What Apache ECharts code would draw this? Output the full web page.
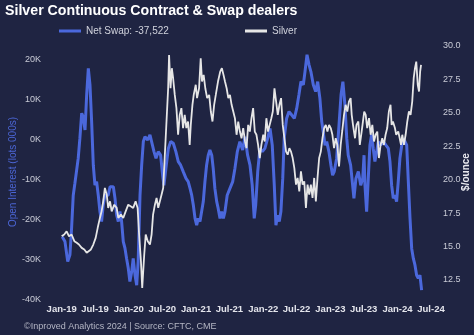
<!DOCTYPE html>
<html>
<head>
<meta charset="utf-8">
<script src="https://cdn.jsdelivr.net/npm/echarts@6/dist/echarts.min.js"></script>
<style>
html,body{margin:0;padding:0;background:#1f2442;}
#chart{width:474px;height:335px;}
</style>
</head>
<body>
<div id="chart"></div>
<script>
// ---- Data ----
const swapDates = [
'2019-01-04','2019-01-19','2019-02-03','2019-02-15','2019-02-24','2019-03-05','2019-03-14','2019-03-24','2019-04-01','2019-04-10',
'2019-04-20','2019-04-28','2019-05-08','2019-05-17','2019-05-26','2019-06-04','2019-06-13','2019-06-22','2019-07-01','2019-07-10',
'2019-07-19','2019-07-28','2019-08-06','2019-08-15','2019-08-24','2019-09-11','2019-09-21','2019-10-09','2019-10-18','2019-10-27',
'2019-11-05','2019-11-14','2019-11-23','2019-12-02','2019-12-11','2019-12-20','2019-12-29','2020-01-07','2020-01-17','2020-01-25',
'2020-02-04','2020-02-13','2020-02-21','2020-03-02','2020-03-11','2020-03-20','2020-03-29','2020-04-13','2020-04-25','2020-05-04',
'2020-05-17','2020-05-28','2020-06-09','2020-06-22','2020-07-03','2020-07-10','2020-07-21','2020-08-03','2020-08-16','2020-08-30',
'2020-09-13','2020-09-26','2020-10-09','2020-10-23','2020-11-07','2020-11-19','2020-11-29','2020-12-08','2020-12-17','2020-12-26',
'2021-01-04','2021-01-13','2021-01-22','2021-01-31','2021-02-09','2021-02-18','2021-02-27','2021-03-08','2021-03-17','2021-03-27',
'2021-04-04','2021-04-13','2021-04-23','2021-05-01','2021-05-11','2021-05-20','2021-05-29','2021-06-07','2021-06-19','2021-07-04',
'2021-07-19','2021-07-31','2021-08-13','2021-08-27','2021-09-11','2021-09-24','2021-09-30','2021-10-08','2021-10-21','2021-11-02',
'2021-11-13','2021-11-21','2021-12-02','2021-12-14','2021-12-27','2022-01-10','2022-01-25','2022-02-07','2022-02-19','2022-03-02',
'2022-03-11','2022-03-20','2022-03-29','2022-04-07','2022-04-17','2022-04-25','2022-05-08','2022-05-21','2022-06-04','2022-06-19',
'2022-07-02','2022-07-14','2022-07-25','2022-08-07','2022-08-16','2022-08-27','2022-09-07','2022-09-17','2022-09-30','2022-10-13',
'2022-10-24','2022-11-05','2022-11-15','2022-11-23','2022-12-03','2022-12-12','2022-12-24','2023-01-04','2023-01-13','2023-01-22',
'2023-02-04','2023-02-17','2023-02-28','2023-03-10','2023-03-21','2023-03-31','2023-04-08','2023-04-21','2023-05-02','2023-05-09',
'2023-05-20','2023-06-02','2023-06-15','2023-06-26','2023-07-03','2023-07-08','2023-07-17','2023-07-26','2023-08-04','2023-08-13',
'2023-08-22','2023-08-31','2023-09-10','2023-09-18','2023-10-01','2023-10-16','2023-10-30','2023-11-12','2023-11-21','2023-11-30',
'2023-12-09','2023-12-18','2023-12-27','2024-01-05','2024-01-14','2024-01-24','2024-02-01','2024-02-11','2024-02-20','2024-02-28',
'2024-03-09','2024-03-18','2024-03-27','2024-04-05','2024-04-14','2024-04-23','2024-05-02','2024-05-11'
];
// Net swap dealer position, thousands of lots
const swapValues = [
-24.2,-25.4,-30.4,-28.7,-22.0,-13.8,-10.8,-10.4,-4.6,0.4,
6.7,5.8,2.5,11.3,17.9,13.8,4.6,-6.3,-11.3,-10.4,
-13.8,-17.9,-20.4,-16.3,-13.8,-13.8,-11.7,-11.7,-14.6,-18.8,
-20.4,-17.9,-20.4,-25.4,-27.0,-29.6,-32.0,-35.4,-32.9,-29.6,
-33.8,-36.3,-30.4,-13.8,-6.3,-0.4,0.8,0.0,1.3,-0.4,
-2.9,-4.6,-2.9,-3.8,-8.8,-11.3,-7.0,-2.1,-0.4,-0.8,
-2.9,-5.4,-6.3,-7.9,-9.6,-10.4,-12.1,-13.8,-16.3,-19.6,
-21.3,-19.6,-20.4,-17.9,-15.4,-10.4,-6.3,-3.8,-2.5,-3.8,
-7.1,-12.1,-15.4,-17.1,-19.6,-17.9,-19.6,-17.9,-13.8,-12.1,
-10.4,-7.1,-2.9,-0.4,-2.5,0.8,1.2,-3.8,-6.3,-11.3,
-19.6,-16.3,-7.9,-2.1,-2.9,-2.1,0.4,2.9,-1.3,-11.3,
-21.3,-18.8,-20.4,-17.9,-9.6,0.4,5.4,7.1,6.3,5.4,
7.9,11.3,14.6,13.8,17.1,21.3,18.8,17.1,13.8,12.1,
14.6,10.4,4.6,2.1,-1.3,-0.4,-2.9,-6.3,-8.8,-7.9,
-4.6,3.8,11.3,14.6,8.8,0.4,-3.8,-6.3,-11.3,-14.6,
-9.6,-7.9,-11.3,-9.6,-3.8,-11.3,-17.9,-9.6,-1.3,1.3,
-2.1,-5.4,-2.9,-0.4,-1.3,-0.4,-1.3,-2.1,-5.4,-11.3,
-14.6,-13.8,-15.4,-10.4,-4.6,-1.3,0.4,-0.4,-1.3,-9.6,
-19.6,-27.1,-29.6,-31.3,-33.8,-34.6,-33.8,-37.522
];
const silverDates = [
'2019-01-01','2019-01-15','2019-01-28','2019-02-10','2019-02-24','2019-03-11','2019-03-24','2019-04-05','2019-04-20','2019-05-04',
'2019-05-17','2019-05-26','2019-06-09','2019-06-22','2019-07-05','2019-07-16','2019-07-28','2019-08-06','2019-08-15','2019-08-24',
'2019-09-03','2019-09-11','2019-09-21','2019-09-30','2019-10-14','2019-10-27','2019-11-05','2019-11-19','2019-12-02','2019-12-15',
'2019-12-29','2020-01-13','2020-01-25','2020-02-07','2020-02-18','2020-02-25','2020-03-07','2020-03-14','2020-03-25','2020-04-02',
'2020-04-13','2020-04-25','2020-05-04','2020-05-12','2020-05-22','2020-05-31','2020-06-09','2020-06-18','2020-06-27','2020-07-06',
'2020-07-15','2020-07-24','2020-08-02','2020-08-07','2020-08-15','2020-08-22','2020-08-29','2020-09-07','2020-09-16','2020-09-25',
'2020-10-04','2020-10-13','2020-10-22','2020-10-31','2020-11-09','2020-11-18','2020-11-27','2020-12-03','2020-12-12','2020-12-19',
'2020-12-30','2021-01-06','2021-01-17','2021-01-26','2021-02-02','2021-02-11','2021-02-20','2021-03-02','2021-03-13','2021-03-22',
'2021-03-31','2021-04-09','2021-04-18','2021-04-30','2021-05-12','2021-05-21','2021-05-30','2021-06-07','2021-06-16','2021-06-25',
'2021-07-04','2021-07-13','2021-07-22','2021-07-31','2021-08-09','2021-08-18','2021-08-27','2021-09-05','2021-09-14','2021-09-24',
'2021-10-02','2021-10-11','2021-10-20','2021-10-29','2021-11-07','2021-11-16','2021-11-25','2021-12-04','2021-12-13','2021-12-22',
'2022-01-01','2022-01-09','2022-01-18','2022-01-27','2022-02-05','2022-02-14','2022-02-22','2022-03-03','2022-03-12','2022-03-21',
'2022-03-30','2022-04-08','2022-04-17','2022-04-26','2022-05-05','2022-05-14','2022-05-23','2022-06-01','2022-06-10','2022-06-19',
'2022-06-28','2022-07-07','2022-07-16','2022-07-25','2022-08-03','2022-08-12','2022-08-21','2022-08-30','2022-09-08','2022-09-17',
'2022-09-26','2022-10-05','2022-10-14','2022-10-23','2022-11-01','2022-11-10','2022-11-19','2022-11-28','2022-12-07','2022-12-16',
'2022-12-25','2023-01-03','2023-01-12','2023-01-21','2023-01-30','2023-02-08','2023-02-17','2023-02-26','2023-03-07','2023-03-16',
'2023-03-25','2023-04-03','2023-04-12','2023-04-21','2023-04-27','2023-05-04','2023-05-15','2023-05-23','2023-06-02','2023-06-10',
'2023-06-20','2023-06-27','2023-07-04','2023-07-12','2023-07-20','2023-07-30','2023-08-08','2023-08-17','2023-08-26','2023-09-04',
'2023-09-13','2023-09-22','2023-10-01','2023-10-10','2023-10-19','2023-10-28','2023-11-06','2023-11-15','2023-11-24','2023-11-30',
'2023-12-07','2023-12-18','2023-12-25','2024-01-05','2024-01-13','2024-01-20','2024-01-27','2024-02-05','2024-02-14','2024-02-23',
'2024-03-03','2024-03-12','2024-03-21','2024-03-29','2024-04-05','2024-04-12','2024-04-20','2024-04-27','2024-05-03','2024-05-08'
];
// Silver price, $/ounce
const silverValues = [
15.77,15.9,16.14,15.77,15.9,15.4,15.28,15.15,14.9,14.78,
14.53,14.4,14.78,15.15,15.65,16.4,17.14,17.63,18.38,19.38,
18.88,17.89,18.38,17.63,18.13,17.89,17.14,17.39,17.14,17.63,
18.13,18.0,17.89,18.38,17.89,16.14,13.9,11.9,14.4,15.9,
15.4,15.15,15.9,17.39,18.13,18.63,17.89,18.38,18.88,19.38,
21.87,24.35,26.84,29.33,26.84,28.34,27.59,26.34,25.35,23.36,
24.85,25.35,23.86,24.85,23.86,24.35,22.6,24.1,25.6,26.34,
27.1,26.1,26.84,29.08,27.34,27.84,26.84,26.1,26.34,25.1,
24.35,25.6,26.34,27.34,28.08,28.34,27.84,27.34,26.84,26.1,
26.34,25.6,25.1,24.6,23.36,24.35,23.6,23.1,23.86,22.86,
22.36,24.1,23.6,24.6,25.35,23.6,23.36,22.6,21.62,22.6,
23.36,22.86,24.6,23.6,24.1,24.6,25.1,26.84,25.84,24.85,
25.6,26.1,24.1,23.1,22.1,21.87,22.36,22.1,21.62,20.87,
19.63,20.13,19.13,20.62,19.63,19.88,17.89,19.63,18.88,19.63,
18.63,20.13,18.38,20.13,21.62,22.1,23.1,23.86,24.1,23.6,
24.1,23.86,23.36,22.36,23.1,22.6,21.0,22.6,23.7,24.85,
25.6,25.1,25.84,26.1,24.85,24.1,23.1,24.1,24.35,22.6,
23.6,24.35,25.1,24.85,23.86,24.6,23.36,24.1,22.86,23.36,
23.6,21.62,22.6,23.1,22.6,23.36,23.86,25.1,25.6,24.1,
24.35,23.86,23.36,23.6,23.1,22.6,23.36,22.6,23.36,24.35,
25.1,24.85,25.84,27.59,28.34,28.83,27.1,26.6,28.08,28.58
];
const xTickDates = ['2019-01-01','2019-07-01','2020-01-01','2020-07-01','2021-01-01','2021-07-01',
  '2022-01-01','2022-07-01','2023-01-01','2023-07-01','2024-01-01','2024-07-01'];
const leftTicks = [-40, -30, -20, -10, 0, 10, 20];
const rightTicks = [12.5, 15.0, 17.5, 20.0, 22.5, 25.0, 27.5, 30.0];
const MONTHS = ['Jan','Feb','Mar','Apr','May','Jun','Jul','Aug','Sep','Oct','Nov','Dec'];

const swapName = 'Net Swap: -37,522';
const silverName = 'Silver';

function ts(s) { return Date.parse(s + 'T00:00:00Z'); }

const FONT = 'Liberation Sans, Arial, sans-serif';
const chart = echarts.init(document.getElementById('chart'), null, {renderer: 'canvas'});
chart.setOption({
  animation: false,
  backgroundColor: '#1f2442',
  textStyle: {fontFamily: FONT},
  title: [
    {text: 'Silver Continuous Contract & Swap dealers', left: 5, top: 4, padding: 0,
     textStyle: {color: '#ffffff', fontSize: 14.2, fontWeight: 'bold', fontFamily: FONT}},
    {text: '©Inproved Analytics 2024 | Source: CFTC, CME', left: 24, top: 322, padding: 0,
     textStyle: {color: '#b4b6c4', fontSize: 9, fontWeight: 'normal', fontFamily: FONT}}
  ],
  legend: [
    {data: [swapName], left: 54, top: 21, icon: 'rect', itemWidth: 22, itemHeight: 3, itemGap: 6,
     textStyle: {color: '#d0d2dc', fontSize: 10, fontFamily: FONT}},
    {data: [silverName], left: 240, top: 21, icon: 'rect', itemWidth: 22, itemHeight: 3, itemGap: 6,
     textStyle: {color: '#d0d2dc', fontSize: 10, fontFamily: FONT}}
  ],
  grid: {left: 44, right: 34, top: 44, bottom: 35, containLabel: false, outerBoundsMode: 'none'},
  xAxis: {
    type: 'value', min: ts('2018-09-27'), max: ts('2024-08-19'),
    axisLine: {show: false}, axisTick: {show: false}, splitLine: {show: false},
    axisLabel: {
      customValues: xTickDates.map(ts), color: '#e4e5ec', fontSize: 9.5, fontWeight: 'bold', margin: 4,
      fontFamily: FONT,
      formatter: function (v) { const d = new Date(v); return MONTHS[d.getUTCMonth()] + '-' + String(d.getUTCFullYear()).slice(2); }
    }
  },
  yAxis: [
    {type: 'value', min: -40, max: 24, position: 'left',
     name: 'Open Interest (lots 000s)', nameLocation: 'middle', nameGap: 26, nameMoveOverlap: false,
     nameTextStyle: {color: '#4b65d4', fontSize: 10, fontFamily: FONT},
     axisLine: {show: false}, axisTick: {show: false}, splitLine: {show: false},
     axisLabel: {customValues: leftTicks, color: '#c9cbd6', fontSize: 9, margin: 3, fontFamily: FONT,
       formatter: function (v) { return Math.round(v) + 'K'; }}},
    {type: 'value', min: 11.0, max: 30.15, position: 'right',
     name: '$/ounce', nameLocation: 'middle', nameGap: 21, nameMoveOverlap: false,
     nameTextStyle: {color: '#e8e8ee', fontSize: 10, fontWeight: 'bold', fontFamily: FONT},
     axisLine: {show: false}, axisTick: {show: false}, splitLine: {show: false},
     axisLabel: {customValues: rightTicks, color: '#c9cbd6', fontSize: 9, margin: 3, fontFamily: FONT,
       formatter: function (v) { return v.toFixed(1); }}}
  ],
  series: [
    {name: swapName, type: 'line', yAxisIndex: 0, showSymbol: false, z: 2,
     data: swapDates.map((d, i) => [ts(d), swapValues[i]]),
     lineStyle: {color: '#4b68dc', width: 3}, itemStyle: {color: '#4b68dc'}},
    {name: silverName, type: 'line', yAxisIndex: 1, showSymbol: false, z: 3,
     data: silverDates.map((d, i) => [ts(d), silverValues[i]]),
     lineStyle: {color: '#e6e6e6', width: 1.8}, itemStyle: {color: '#e6e6e6'}}
  ]
});
</script>
</body>
</html>
